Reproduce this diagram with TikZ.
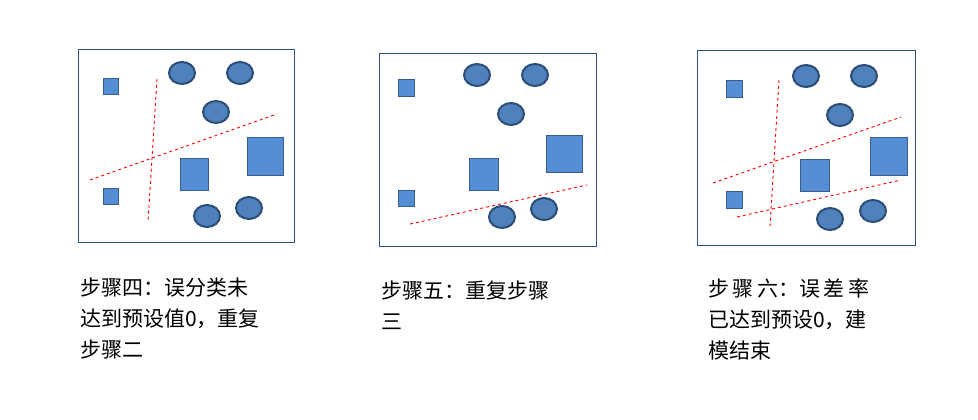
\documentclass[tikz,border=0pt]{standalone}
\usepackage{fontspec}
\newfontfamily\cjk{Noto Sans CJK SC}
\begin{document}
\begin{tikzpicture}[x=1pt,y=-1pt,
 frame/.style={draw=blue!40!black!70!cyan!60!gray,line width=0.8pt},
 sq/.style={draw=blue!50!black,fill=blue!55!cyan!60!white,line width=0.9pt},
 dot/.style={draw=blue!45!black,fill=blue!55!cyan!45!gray,line width=1.8pt},
 sep/.style={red,dashed,line width=0.9pt},
 lbl/.style={anchor=north west,align=left,font=\cjk\fontsize{21}{31}\selectfont,inner sep=0pt}]
\useasboundingbox (0,0) rectangle (978,420);
\definecolor{fr}{RGB}{47,82,143}
\definecolor{sqf}{RGB}{85,142,213}
\definecolor{sqd}{RGB}{56,93,138}
\definecolor{cf}{RGB}{79,129,189}
\definecolor{cd}{RGB}{44,77,117}
\tikzset{frame/.style={draw=fr,line width=0.9pt},sq/.style={draw=sqd,fill=sqf,line width=0.9pt},dot/.style={draw=cd,fill=cf,line width=2pt}}
% panel 1
\draw[frame] (78,49) rectangle (294,242);
\draw[sq] (103,78) rectangle (118,94);
\draw[sq] (103,188) rectangle (118,204);
\draw[sq] (180,158) rectangle (208,190);
\draw[sq] (247,137) rectangle (283,175);
\foreach \p in {(182,73),(240,73),(216,112),(207,216),(249,208)} \draw[dot] \p ellipse (13 and 11);
\coordinate (a1) at (157,79); \coordinate (a2) at (148,222);
\coordinate (b1) at (90,180); \coordinate (b2) at (277,114);
\draw[sep] (a1) -- (a2); \draw[sep] (b1) -- (b2);
\node[lbl] (t1) at (80,278) {步骤四：误分类未\\达到预设值0，重复\\步骤二};
% panel 2
\draw[frame] (379,53) rectangle (596,246);
\draw[sq] (398,79) rectangle (414,96);
\draw[sq] (398,190) rectangle (414,206);
\draw[sq] (469,158) rectangle (498,190);
\draw[sq] (546,135) rectangle (582,172);
\foreach \p in {(477,75),(535,75),(511,114),(502,217),(544,209)} \draw[dot] \p ellipse (13 and 11);
\coordinate (c1) at (410,224); \coordinate (c2) at (587,185);
\draw[sep] (c1) -- (c2);
\node[lbl] (t2) at (381,281) {步骤五：重复步骤\\三};
% panel 3
\draw[frame] (697,50) rectangle (915,245);
\draw[sq] (726,80) rectangle (742,97);
\draw[sq] (726,191) rectangle (742,208);
\draw[sq] (800,159) rectangle (829,191);
\draw[sq] (870,137) rectangle (907,175);
\foreach \p in {(806,76),(864,76),(840,115),(830,219),(873,211)} \draw[dot] \p ellipse (13 and 11);
\coordinate (d1) at (779,80); \coordinate (d2) at (770,226);
\coordinate (e1) at (713,183); \coordinate (e2) at (901,117);
\coordinate (f1) at (737,217); \coordinate (f2) at (901,180);
\draw[sep] (d1) -- (d2); \draw[sep] (e1) -- (e2); \draw[sep] (f1) -- (f2);
\node[lbl] (t3) at (708,279) {步\,骤\,六：误\,差\,率\\已达到预设0，建\\模结束};
\end{tikzpicture}
\end{document}
